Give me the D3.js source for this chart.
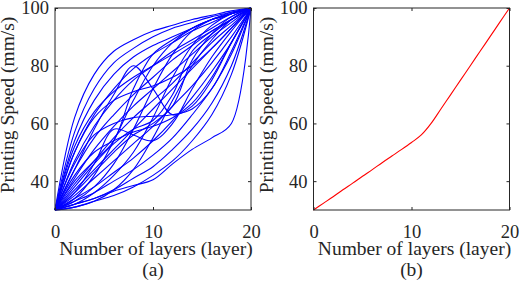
<!DOCTYPE html>
<html>
<head>
<meta charset="utf-8">
<script src="https://cdn.jsdelivr.net/npm/d3@7"></script>
<style>
  html, body { margin: 0; padding: 0; background: #fff; }
  svg { display: block; }
</style>
</head>
<body>
<svg id="chart" width="520" height="282"></svg>
<script>
// ---------- data ----------
const knotLayers = [0, 2, 4, 6, 8, 10, 12, 14, 16, 18, 20];
const xTicks = [0, 10, 20];
const yTicks = [40, 60, 80, 100];
const xDomain = [0, 20];
const yDomain = [30, 100];

// Panel (a): candidate speed profiles (values at knotLayers)
const curveA1  = [30, 62, 77, 85, 89, 92, 94, 96, 97.5, 99, 100];
const curveA2  = [30, 57, 72, 81, 86, 90, 93, 95, 97, 98.5, 100];
const curveA3  = [30, 54, 68, 77, 83, 87, 90, 93, 96, 98, 100];
const curveA4  = [30, 50, 63, 72, 79, 84, 88, 92, 95, 98, 100];
const curveA5  = [30, 47, 59, 68, 75, 80, 85, 89, 93, 97, 100];
const curveA6  = [30, 44, 55, 63, 70, 76, 82, 87, 92, 96, 100];
const curveA7  = [30, 41, 51, 59, 66, 72, 78, 84, 90, 95, 100];
const curveA8  = [30, 39, 47, 55, 62, 68, 74, 81, 88, 94, 100];
const curveA9  = [30, 37, 44, 51, 58, 65, 72, 79, 86, 93, 100];
const curveA10 = [30, 35, 41, 47, 53, 59, 66, 73, 81, 90, 100];
const curveA11 = [30, 34, 38, 43, 48, 54, 61, 69, 78, 88, 100];
const curveA12 = [30, 33, 36, 40, 44, 49, 55, 63, 72, 84, 100];
const curveA13 = [30, 32, 34, 37, 41, 45, 51, 58, 67, 80, 100];
const curveA14 = [30, 31, 33, 35, 38, 42, 47, 54, 63, 77, 100];
const curveA15 = [30, 32, 34, 36.5, 38.5, 40.5, 46, 51, 55, 60, 100];
const curveA16 = [30, 52, 64, 71, 76, 80, 84, 88, 92, 96, 100];
const curveS1  = [30, 33, 38, 46, 58, 72, 84, 92, 96, 98.5, 100];
const curveS2  = [30, 32, 36, 42, 50, 62, 76, 87, 94, 98, 100];
const curveS3  = [30, 34, 42, 54, 68, 80, 88, 93, 96, 98, 100];
const curveS4  = [30, 31, 33, 37, 44, 55, 68, 80, 89, 96, 100];
const curveR1  = [30, 46, 56, 60, 62, 62.5, 63, 65, 72, 85, 100];
const curveR2  = [30, 42, 50, 54, 57, 59, 62, 67, 76, 88, 100];
const curveR3  = [30, 50, 62, 68, 71, 73, 76, 80, 86, 93, 100];
const curveZ1  = [30, 40, 47, 54, 72, 84, 89, 93, 96, 98, 100];
const curveZ2  = [30, 36, 43, 50, 56, 60, 66, 82, 91, 97, 100];
const curveZ3  = [30, 44, 58, 70, 80, 72, 63, 66, 75, 88, 100];
const curveZ4  = [30, 38, 46, 53, 58, 61, 70, 85, 91, 96, 100];
const curveZ5  = [30, 36, 46, 58, 56, 54, 60, 72, 83, 92, 100];
const curvesA = [curveA1, curveA2, curveA3, curveA4, curveA5, curveA6, curveA7, curveA8,
  curveA9, curveA10, curveA11, curveA12, curveA13, curveA14, curveA15, curveA16,
  curveS1, curveS2, curveS3, curveS4, curveR1, curveR2, curveR3,
  curveZ1, curveZ2, curveZ3, curveZ4, curveZ5];

// Panel (b): optimised speed profile, one value per layer
const layersB = [0,1,2,3,4,5,6,7,8,9,10,11,12,13,14,15,16,17,18,19,20];
const speedB  = [30,32.3,34.6,37,39.3,41.7,44,46.4,48.7,51,53.4,56,60,65,70,75,80,85,90,95,100];

const xLabel = "Number of layers (layer)";
const yLabel = "Printing Speed (mm/s)";
const panelTags = ["(a)", "(b)"];

// ---------- drawing ----------
const svg = d3.select("#chart");
const FONT = '"Liberation Serif", Tinos, "Times New Roman", "DejaVu Serif", serif';
const plotTop = 8, plotBottom = 210, plotWidth = 196;
const panelLefts = [55, 313.5];
const axisColor = "#262626";
const tickFont = 18.5, labelFont = 19.5;

function drawPanel(left, tag, drawData) {
  const x = d3.scaleLinear().domain(xDomain).range([left, left + plotWidth]);
  const y = d3.scaleLinear().domain(yDomain).range([plotBottom, plotTop]);
  const g = svg.append("g").attr("font-family", FONT).style("font-family", FONT);

  drawData(g, x, y);

  g.append("rect").attr("x", left).attr("y", plotTop).attr("width", plotWidth).attr("height", plotBottom - plotTop)
    .attr("fill", "none").attr("stroke", axisColor).attr("stroke-width", 1);

  const styleAxis = sel => {
    sel.attr("font-family", FONT).attr("font-size", tickFont);
    sel.select(".domain").remove();
    sel.selectAll(".tick line").attr("stroke", axisColor);
    sel.selectAll(".tick text").attr("fill", axisColor).style("font-family", FONT).style("font-size", tickFont + "px");
  };

  g.append("g").attr("transform", `translate(0,${plotBottom})`)
    .call(d3.axisBottom(x).tickValues(xTicks).tickSize(-3).tickPadding(14.5).tickFormat(d3.format("d")))
    .call(styleAxis);
  g.append("g").attr("transform", `translate(0,${plotTop})`)
    .call(d3.axisTop(x).tickValues(xTicks).tickSize(-3).tickFormat(""))
    .call(styleAxis);
  g.append("g").attr("transform", `translate(${left},0)`)
    .call(d3.axisLeft(y).tickValues(yTicks).tickSize(-3).tickPadding(6).tickFormat(d3.format("d")))
    .call(styleAxis);
  g.append("g").attr("transform", `translate(${left + plotWidth},0)`)
    .call(d3.axisRight(y).tickValues(yTicks).tickSize(-3).tickFormat(""))
    .call(styleAxis);

  const label = sel => sel.attr("fill", axisColor).attr("text-anchor", "middle")
    .style("font-family", FONT).style("font-size", labelFont + "px");
  g.append("text").attr("x", left + plotWidth / 2 + 3).attr("y", 254.5).call(label).text(xLabel);
  g.append("text").attr("x", left + plotWidth / 2).attr("y", 276).call(label).text(tag);
  g.append("text").attr("transform", `translate(${left - 41},${(plotTop + plotBottom) / 2 - 4}) rotate(-90)`)
    .call(label).text(yLabel);
}

const lineGen = (x, y) => d3.line().x(d => x(d[0])).y(d => y(d[1])).curve(d3.curveCatmullRom.alpha(0.5));

drawPanel(panelLefts[0], panelTags[0], (g, x, y) => {
  const line = lineGen(x, y);
  g.selectAll("path.c").data(curvesA).join("path").attr("class", "c")
    .attr("d", vals => line(knotLayers.map((l, i) => [l, vals[i]])))
    .attr("fill", "none").attr("stroke", "#0000ff").attr("stroke-width", 1.1);
});

drawPanel(panelLefts[1], panelTags[1], (g, x, y) => {
  const line = lineGen(x, y);
  g.append("path").attr("d", line(layersB.map((l, i) => [l, speedB[i]])))
    .attr("fill", "none").attr("stroke", "#ff0000").attr("stroke-width", 1.1);
});
</script>
</body>
</html>
